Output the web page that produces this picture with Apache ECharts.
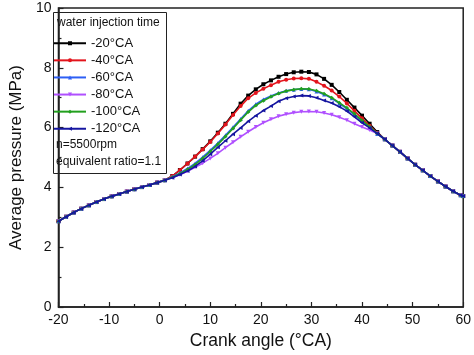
<!DOCTYPE html>
<html><head><meta charset="utf-8">
<script src="https://cdn.jsdelivr.net/npm/echarts@6/dist/echarts.min.js"></script>
<style>html,body{margin:0;padding:0;background:#fff}#c{width:474px;height:355px}</style>
</head><body><div id="c"></div>
<script>
// Crank angle (°CA) sample positions
var crankAngle = [-20,-18.5,-17,-15.5,-14,-12.5,-11,-9.5,-8,-6.5,-5,-3.5,-2,-0.5,1,
  2.5,4,5.5,7,8.5,10,11.5,13,14.5,16,17.5,19,20.5,22,23.5,25,26.5,28,29.5,31,32.5,34,35.5,37,38.5,40,41.5,43,
  44.5,46,47.5,49,50.5,52,53.5,55,56.5,58,59.5,60];
// pressure shared by all curves before divergence (-20..1 °CA)
var sharedStart = [2.87,3.02,3.16,3.29,3.40,3.51,3.61,3.70,3.78,3.86,3.94,4.01,4.08,4.16,4.24];
// pressure shared by all curves after convergence (44.5..60 °CA)
var sharedEnd = [5.61,5.40,5.19,4.97,4.76,4.57,4.38,4.20,4.03,3.87,3.74,3.71];
// diverging part (2.5..43 °CA)
var mid20  = [4.38,4.58,4.80,5.03,5.28,5.54,5.83,6.13,6.46,6.80,7.07,7.28,7.45,7.58,7.70,7.79,7.85,7.87,7.86,7.78,7.63,7.43,7.19,6.93,6.67,6.40,6.13,5.85];
var mid40  = [4.38,4.58,4.80,5.03,5.27,5.52,5.80,6.10,6.42,6.72,6.98,7.16,7.30,7.42,7.53,7.60,7.64,7.65,7.63,7.53,7.40,7.24,7.04,6.81,6.56,6.31,6.06,5.82];
var mid60  = [4.35,4.48,4.63,4.80,5.01,5.24,5.48,5.74,6.01,6.29,6.56,6.78,6.94,7.06,7.16,7.23,7.27,7.29,7.28,7.21,7.11,6.98,6.81,6.63,6.43,6.22,6.01,5.79];
var mid80  = [4.32,4.42,4.54,4.67,4.81,4.97,5.14,5.33,5.51,5.69,5.86,6.02,6.16,6.28,6.38,6.45,6.50,6.53,6.54,6.53,6.49,6.43,6.35,6.25,6.13,6.02,5.92,5.80];
var mid100 = [4.34,4.46,4.60,4.76,4.97,5.20,5.44,5.70,5.97,6.25,6.52,6.74,6.90,7.03,7.14,7.22,7.27,7.30,7.29,7.23,7.13,7.00,6.83,6.66,6.46,6.24,6.03,5.80];
var mid120 = [4.32,4.43,4.55,4.70,4.89,5.11,5.34,5.56,5.78,5.99,6.21,6.40,6.57,6.72,6.88,6.98,7.04,7.07,7.06,7.00,6.91,6.82,6.70,6.55,6.36,6.16,5.99,5.80];
var seriesNames = ['-20°CA','-40°CA','-60°CA','-80°CA','-100°CA','-120°CA'];
var mids = [mid20, mid40, mid60, mid80, mid100, mid120];
var xTicks = [-20,-10,0,10,20,30,40,50,60];
var yTicks = [0,2,4,6,8,10];

var colors = ['#000000','#e3141c','#2d5ff5','#b050ff','#22a01e','#1616a0'];
var symbols = ['rect','circle','triangle','triangle','diamond','triangle'];
var rots = [0,0,0,180,0,90];
var FONT = '"Liberation Sans", Arial, Helvetica, sans-serif';

var series = seriesNames.map(function(n, i){
  var vals = sharedStart.concat(mids[i], sharedEnd);
  return {
    name: n, type: 'line',
    data: crankAngle.map(function(x, j){ return [x, vals[j]]; }),
    symbol: symbols[i], symbolRotate: rots[i], symbolSize: 4,
    showAllSymbol: true,
    lineStyle: {color: colors[i], width: 1.6},
    itemStyle: {color: colors[i]},
    z: 2 + i
  };
});

var chart = echarts.init(document.getElementById('c'), null, {renderer: 'canvas'});
chart.setOption({
  animation: false,
  textStyle: {fontFamily: FONT},
  grid: {left: 43, right: 8, top: 8, bottom: 47, show: true, borderColor: '#222', borderWidth: 1.5, backgroundColor: 'transparent'},
  xAxis: {
    type: 'value', min: xTicks[0], max: xTicks[xTicks.length-1], interval: 10,
    name: 'Crank angle (°CA)', nameLocation: 'middle', nameGap: 25,
    nameTextStyle: {fontSize: 17.5, color: '#111', fontFamily: FONT},
    axisLine: {onZero: false, lineStyle: {color: '#222', width: 1.5}},
    axisTick: {inside: true, length: 5, lineStyle: {color: '#222', width: 1.2}},
    minorTick: {show: true, splitNumber: 2, length: 3, lineStyle: {color: '#222', width: 1.2}},
    axisLabel: {fontSize: 14, color: '#111', margin: 6, fontFamily: FONT},
    splitLine: {show: false}
  },
  yAxis: {
    type: 'value', min: yTicks[0], max: yTicks[yTicks.length-1], interval: 2,
    name: 'Average pressure (MPa)', nameLocation: 'middle', nameGap: 24,
    nameTextStyle: {fontSize: 17, color: '#111', fontFamily: FONT},
    axisLine: {onZero: false, lineStyle: {color: '#222', width: 1.5}},
    axisTick: {inside: true, length: 5, lineStyle: {color: '#222', width: 1.2}},
    minorTick: {show: true, splitNumber: 2, length: 3, lineStyle: {color: '#222', width: 1.2}},
    axisLabel: {fontSize: 14, color: '#111', margin: 7, fontFamily: FONT},
    splitLine: {show: false}
  },
  legend: {
    orient: 'vertical', left: 53, top: 36, padding: 0,
    itemWidth: 32, itemHeight: 5, itemGap: 2.6,
    textStyle: {fontSize: 13, lineHeight: 14.5, color: '#111', fontFamily: FONT},
    data: seriesNames
  },
  graphic: [
    {type: 'rect', left: 51, top: 10, shape: {width: 113, height: 161}, style: {fill: 'none', stroke: '#222', lineWidth: 1}, z: 0},
    {type: 'text', left: 57, top: 17, style: {text: 'water injection time', font: '12px ' + FONT, fill: '#111'}},
    {type: 'text', left: 56, top: 139, style: {text: 'n=5500rpm', font: '12px ' + FONT, fill: '#111'}},
    {type: 'text', left: 56, top: 156, style: {text: 'equivalent ratio=1.1', font: '12px ' + FONT, fill: '#111'}}
  ],
  series: series
});
</script>
</body></html>
